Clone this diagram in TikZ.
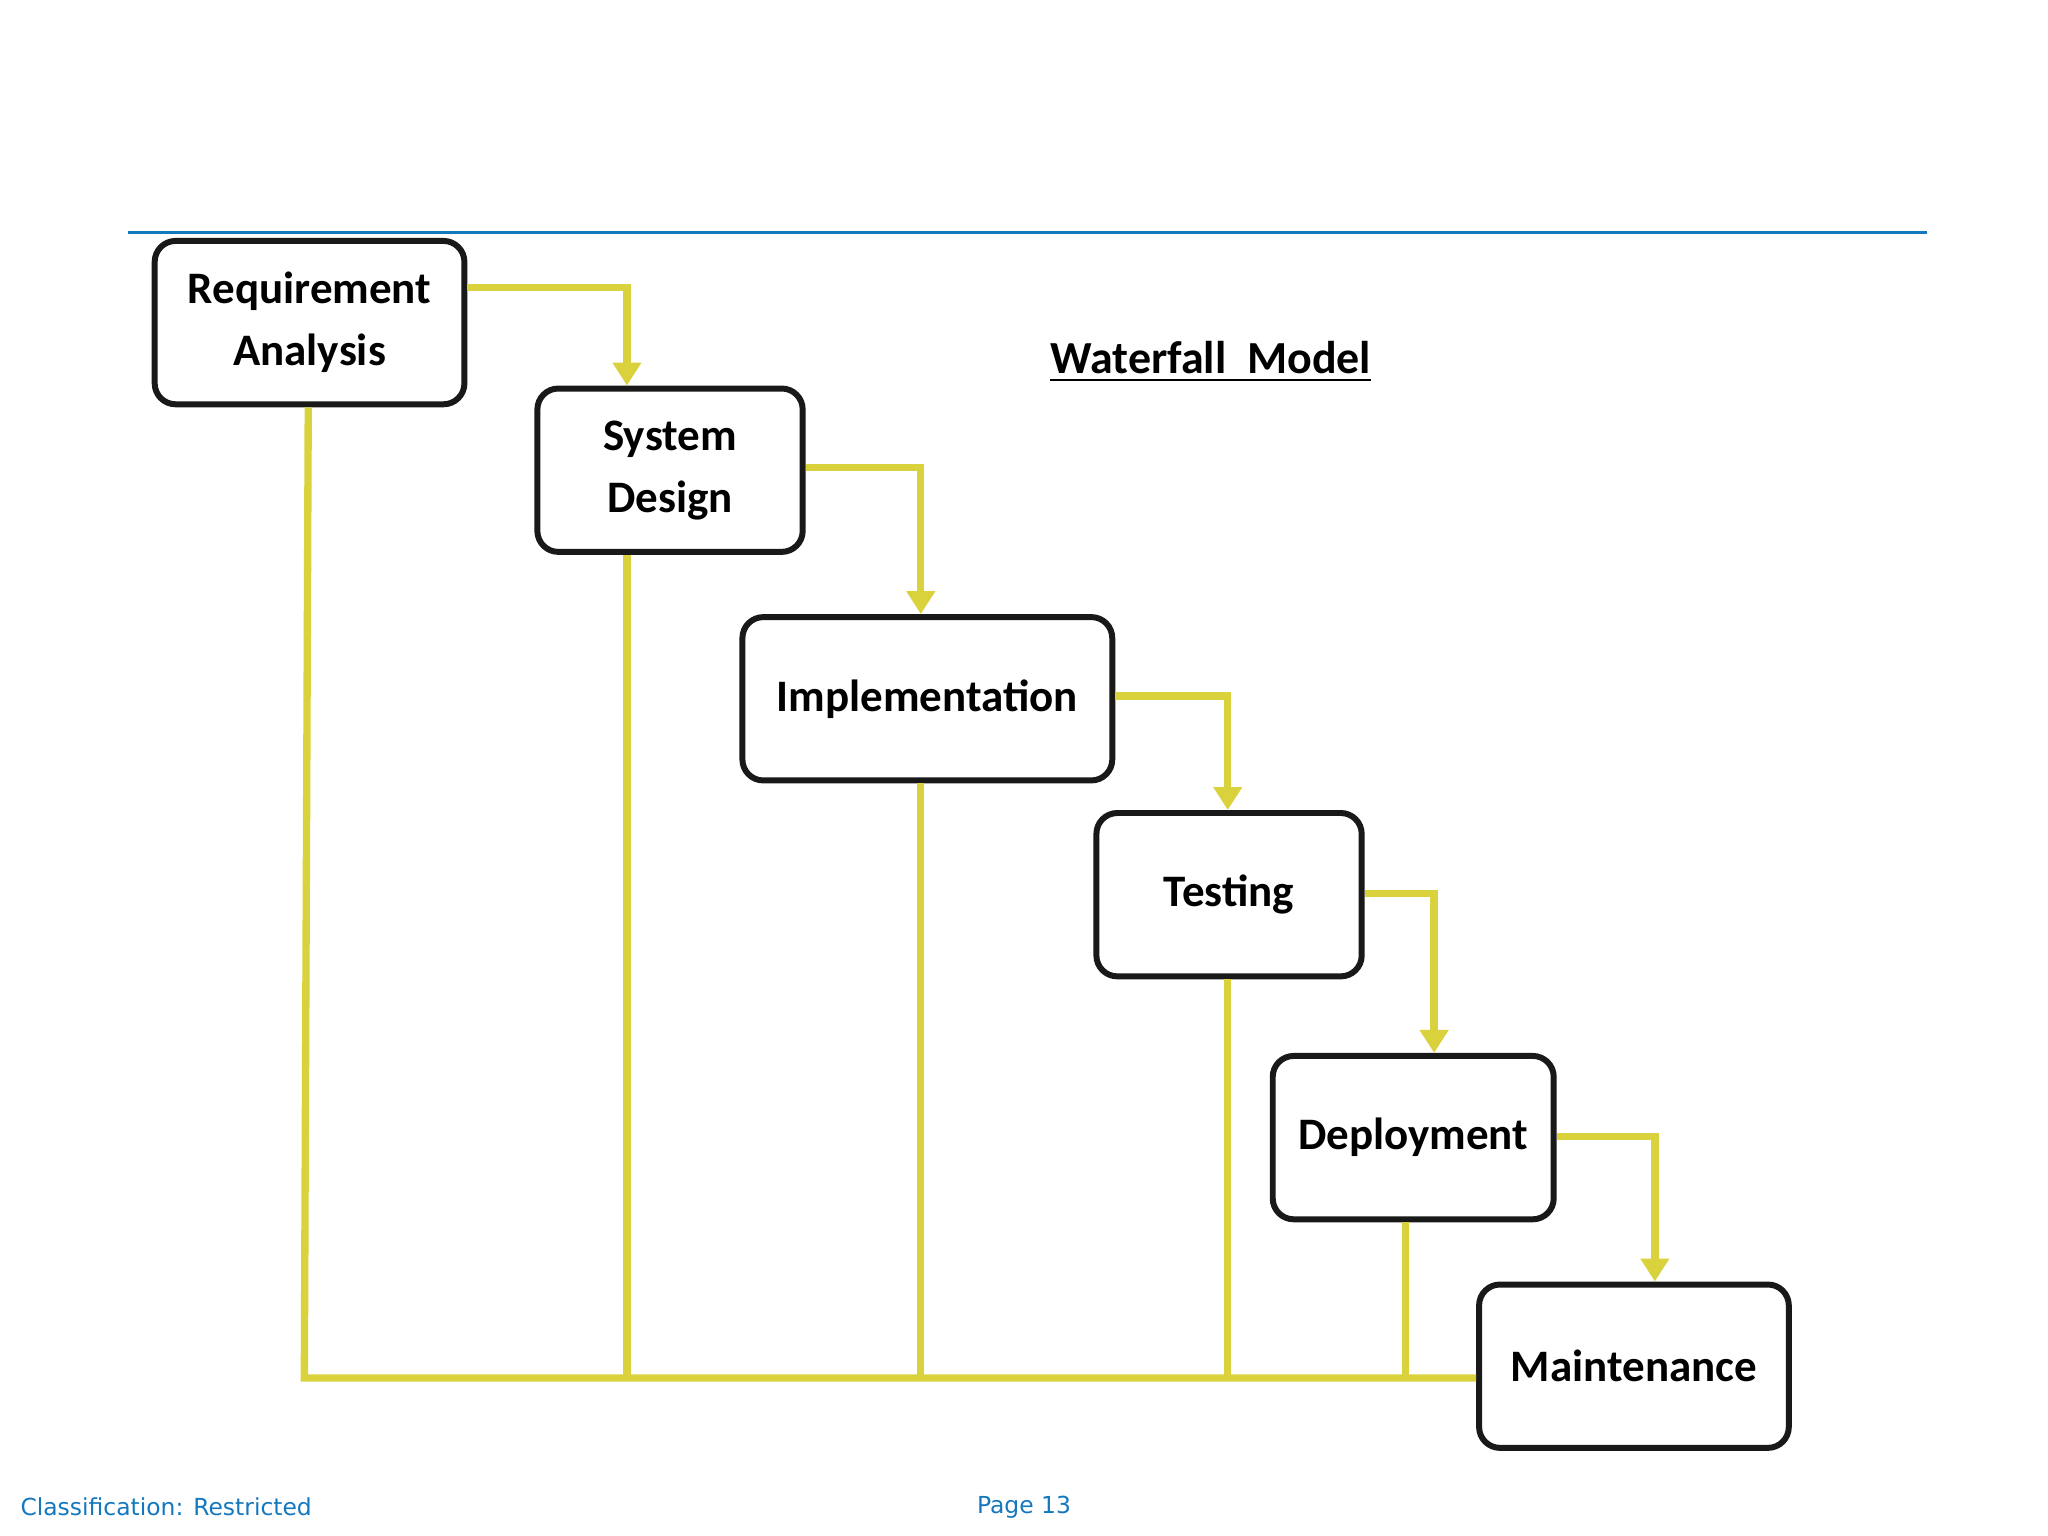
\documentclass[tikz,border=0pt]{standalone}
\usepackage{fontspec}
\setmainfont{Carlito}
\newfontfamily\footfont{DejaVu Sans}
\usetikzlibrary{arrows.meta}
\definecolor{wfyellow}{RGB}{218,210,60}
\definecolor{wfblue}{RGB}{20,120,190}
\begin{document}
\begin{tikzpicture}[x=0.01cm,y=-0.01cm,
  stage/.style={draw=black!90,line width=1.3pt,rounded corners=0.16cm,fill=white,align=center,font=\bfseries\fontsize{9.8}{13.5}\selectfont,inner sep=0pt},
  flow/.style={wfyellow,line width=1.6pt,-{Triangle[length=5pt,width=6pt]}},
  back/.style={wfyellow,line width=1.6pt}]
\useasboundingbox (0,0) rectangle (1568,1176);
\draw[wfblue,line width=0.5pt] (98,178) -- (1475,178);
\node[stage,minimum width=2.37cm,minimum height=1.25cm] (ra) at (237,247) {Requirement\\Analysis};
\node[stage,minimum width=2.03cm,minimum height=1.25cm] (sd) at (513,360) {System\\Design};
\node[stage,minimum width=2.83cm,minimum height=1.25cm] (im) at (710,535) {Implementation};
\node[stage,minimum width=2.03cm,minimum height=1.25cm] (te) at (941,685) {Testing};
\node[stage,minimum width=2.15cm,minimum height=1.25cm] (de) at (1082,871) {Deployment};
\node[stage,minimum width=2.37cm,minimum height=1.25cm] (ma) at (1251,1046) {Maintenance};
\node[font=\bfseries\fontsize{10}{12}\selectfont] (title) at (927,277) {\underline{Waterfall\ \ Model}};
\draw[flow] (ra.east|-0,220) -| (sd.north-|480,0);
\draw[flow] (sd.east|-0,358) -| (im.north-|705,0);
\draw[flow] (im.east|-0,533) -| (te.north-|940,0);
\draw[flow] (te.east|-0,684) -| (de.north-|1098,0);
\draw[flow] (de.east|-0,870) -| (ma.north-|1267,0);
\coordinate (bl) at (233,1055);
\draw[back] (ma.west|-0,1055) -- (bl) -- (ra.south-|236,0);
\draw[back] (sd.south-|480,0) -- (480,1055);
\draw[back] (im.south-|705,0) -- (705,1055);
\draw[back] (te.south-|940,0) -- (940,1055);
\draw[back] (de.south-|1076,0) -- (1076,1055);
\node[anchor=west,inner sep=0pt,wfblue,font=\footfont\fontsize{5.1}{6}\selectfont] (cl) at (15,1154) {Classification: Restricted};
\node[wfblue,inner sep=0pt,font=\footfont\fontsize{5.1}{6}\selectfont] (pg) at (784,1154) {Page 13};
\end{tikzpicture}
\end{document}
